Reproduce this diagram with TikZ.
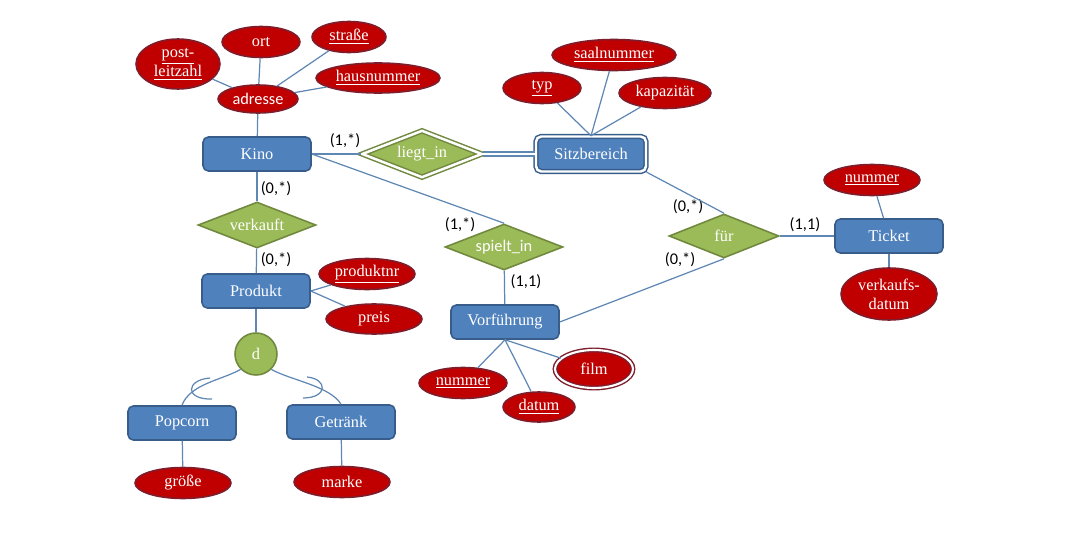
\documentclass[tikz,border=0pt]{standalone}
\usepackage{fontspec}
\setmainfont{Liberation Serif}
\newfontfamily\calibfont{Carlito}
\usepackage{tikz}
\usetikzlibrary{shapes.geometric}
\definecolor{entblue}{RGB}{79,129,189}
\definecolor{entborder}{RGB}{56,93,138}
\definecolor{attred}{RGB}{192,0,0}
\definecolor{attborder}{RGB}{125,30,45}
\definecolor{relgreen}{RGB}{155,187,89}
\definecolor{relborder}{RGB}{113,137,63}
\definecolor{linkblue}{RGB}{95,135,180}

\begin{document}
\begin{tikzpicture}[x=0.02cm, y=-0.02cm,
    every node/.style={font=\fontsize{9.3}{11}\selectfont, text=white},
    entity/.style={rectangle, rounded corners=3pt, fill=entblue, draw=entborder, line width=0.9pt, minimum width=2.16cm, minimum height=0.68cm},
    attrib/.style={ellipse, fill=attred, draw=attborder, line width=0.9pt, inner sep=0pt, minimum height=0.62cm},
    rel/.style={diamond, aspect=2.5, fill=relgreen, draw=relborder, line width=0.9pt, inner sep=0pt, minimum width=2.36cm, minimum height=0.92cm},
    card/.style={text=black, font=\calibfont\fontsize{9.3}{11}\selectfont},
    link/.style={draw=linkblue, line width=0.7pt}]
    \useasboundingbox (0,0) rectangle (1080,534);

    % entities
    \node[entity] (kino) at (257,154) {Kino};
    \node[entity, draw=entborder, double=white, double distance=1.4pt, line width=0.85pt, minimum width=2.2cm, minimum height=0.7cm] (sitz) at (591,154) {Sitzbereich};
    \node[entity] (produkt) at (256,291) {Produkt};
    \node[entity] (popcorn) at (182,423) {Popcorn};
    \node[entity] (getraenk) at (341,422) {Getränk};
    \node[entity] (vorf) at (505,322) {Vorführung};
    \node[entity] (ticket) at (889,236) {Ticket};

    % relationships
    \node[rel, double=white, double distance=1.4pt, line width=0.85pt, minimum width=2.4cm, minimum height=0.94cm] (liegt) at (422,154) {liegt\_in};
    \node[rel] (verkauft) at (257,225) {verkauft};
    \node[rel, font=\calibfont\fontsize{9.3}{11}\selectfont] (spielt) at (504,247) {spielt\_in};
    \node[rel, minimum width=2.2cm, minimum height=0.88cm] (fuer) at (724,236) {für};
    \node[circle, fill=relgreen, draw=relborder, line width=0.9pt, minimum size=0.84cm, inner sep=0pt] (d) at (256,354) {d};

    % attributes
    \node[attrib, minimum width=1.68cm, minimum height=1cm, align=center] (plz) at (178,64) {\underline{post-}\\\underline{leitzahl}};
    \node[attrib, minimum width=1.56cm] (ort) at (261,42) {ort};
    \node[attrib, minimum width=1.48cm] (strasse) at (349,37) {\underline{straße}};
    \node[attrib, minimum width=2.48cm, minimum height=0.6cm] (hausnr) at (378,78) {\underline{hausnummer}};
    \node[attrib, minimum width=1.6cm, minimum height=0.56cm, font=\calibfont\fontsize{9.3}{11}\selectfont] (adresse) at (258,99) {adresse};
    \node[attrib, minimum width=2.48cm] (saalnr) at (614,55) {\underline{saalnummer}};
    \node[attrib, minimum width=1.56cm] (typ) at (542,88) {\underline{typ}};
    \node[attrib, minimum width=1.84cm] (kapaz) at (665,93) {kapazität};
    \node[attrib, minimum width=1.92cm, minimum height=0.62cm] (produktnr) at (367,274) {\underline{produktnr}};
    \node[attrib, minimum width=1.92cm, minimum height=0.6cm] (preis) at (374,319) {preis};
    \node[attrib, minimum width=1.92cm] (groesse) at (183,483) {größe};
    \node[attrib, minimum width=1.92cm] (marke) at (342,482) {marke};
    \node[attrib, minimum width=1.76cm] (vnummer) at (463,383) {\underline{nummer}};
    \node[attrib, minimum width=1.44cm, minimum height=0.6cm] (datum) at (539,407) {\underline{datum}};
    \node[attrib, double=white, double distance=1.2pt, line width=0.8pt, minimum width=1.56cm, minimum height=0.76cm] (film) at (594,369) {film};
    \node[attrib, minimum width=1.92cm] (tnummer) at (872,180) {\underline{nummer}};
    \node[attrib, minimum width=1.92cm, minimum height=1.04cm, align=center] (vdatum) at (889,294) {verkaufs-\\datum};

    % cardinalities
    \node[card] (c1) at (345,141) {(1,*)};
    \node[card] (c2) at (276,189) {(0,*)};
    \node[card] (c3) at (276,260) {(0,*)};
    \node[card] (c4) at (460,225) {(1,*)};
    \node[card] (c5) at (526,282) {(1,1)};
    \node[card] (c6) at (688,207) {(0,*)};
    \node[card] (c7) at (680,260) {(0,*)};
    \node[card] (c8) at (805,225) {(1,1)};

    % connectors
    \draw[link] (adresse) -- (plz);
    \draw[link] (adresse) -- (ort);
    \draw[link] (adresse) -- (strasse);
    \draw[link] (adresse) -- (hausnr);
    \draw[link] (adresse) -- (kino);
    \draw[link] (kino.east) -- (liegt.west);
    \draw[link, double=white, double distance=1.5pt] (liegt.east) -- (sitz.west);
    \draw[link] (sitz.north) -- (typ);
    \draw[link] (sitz.north) -- (saalnr);
    \draw[link] (sitz.north) -- (kapaz);
    \draw[link] (kino.east) -- (spielt.north);
    \draw[link] (kino) -- (verkauft);
    \draw[link] (verkauft) -- (produkt);
    \draw[link] (produkt.east) -- (produktnr);
    \draw[link] (produkt.east) -- (preis);
    \draw[link] (produkt) -- (d);
    \draw[link] (d.south west) .. controls (222,380) and (190,384) .. (popcorn.north);
    \draw[link] (d.south east) .. controls (290,380) and (330,386) .. (getraenk.north);
    \draw[link] (210,378) .. controls (185,380) and (185,400) .. (212,399);
    \draw[link] (307,377) .. controls (328,379) and (328,398) .. (303,398);
    \draw[link] (popcorn) -- (groesse);
    \draw[link] (getraenk) -- (marke);
    \draw[link] (spielt) -- (vorf);
    \draw[link] (vorf.south) -- (vnummer);
    \draw[link] (vorf.south) -- (datum);
    \draw[link] (vorf.south) -- (film);
    \draw[link] (sitz.south east) -- (fuer.north);
    \draw[link] (vorf.east) -- (fuer.south);
    \draw[link] (fuer.east) -- (ticket.west);
    \draw[link] (ticket) -- (tnummer);
    \draw[link] (ticket) -- (vdatum);
\end{tikzpicture}
\end{document}
